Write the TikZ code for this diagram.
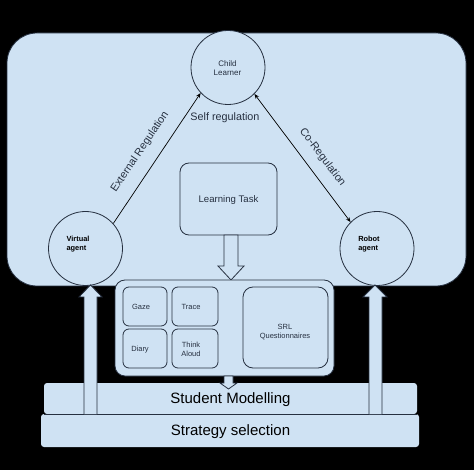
\documentclass[tikz,border=0pt]{standalone}
\usepackage{fontspec}
\setmainfont{Liberation Sans}
\usetikzlibrary{arrows.meta}
\definecolor{lb}{HTML}{CFE2F3}
\definecolor{dk}{HTML}{263040}
\tikzset{
  panel/.style={fill=lb, draw=dk, line width=0.8pt},
  circ/.style={circle, fill=lb, draw=dk, line width=0.8pt, minimum size=74pt, inner sep=0pt},
  smallbox/.style={fill=lb, draw=dk, line width=0.8pt, rounded corners=6pt},
  hollow/.style={fill=lb, draw=dk, line width=0.8pt, line join=miter},
  reg/.style={draw=black, line width=0.7pt},
  lbl/.style={font=\fontsize{10.8}{12}\selectfont, text=dk, inner sep=0pt},
  tiny/.style={font=\fontsize{7.5}{9}\selectfont, text=dk, align=center, inner sep=0pt},
  agent/.style={font=\bfseries\fontsize{7.4}{9}\selectfont, text=black, align=left, inner sep=0pt},
  big/.style={font=\fontsize{15}{17}\selectfont, text=black, inner sep=0pt}
}
\begin{document}
\begin{tikzpicture}[x=1pt,y=-1pt]
\useasboundingbox (0,0) rectangle (474,470);
\fill[black] (0,0) rectangle (474,470);
% main panel
\draw[panel, rounded corners=30pt] (7,33) rectangle (466,286);
% circles
\node[circ] (child) at (228,67.5) {};
\node[tiny, font=\fontsize{8}{9.5}\selectfont] (childtxt) at (227.5,68) {Child\\Learner};
\node[circ] (virt) at (85.5,248.5) {};
\node[agent] (virttxt) at (78,244) {Virtual\\agent};
\node[circ] (robot) at (377,248.5) {};
\node[agent] (robottxt) at (369,244) {Robot\\agent};
% regulation connectors
\draw[reg, -{Stealth[length=5pt,width=4pt]}] (virt.42) -- (child.223);
\draw[reg, {Stealth[length=5pt,width=4pt]}-{Stealth[length=5pt,width=4pt]}] (child.315) -- (robot.135);
\node[lbl, rotate=56] (ext) at (140,152) {External Regulation};
\node[lbl, rotate=-53] (co) at (322.5,157.5) {Co-Regulation};
\node[lbl] (self) at (225,117.5) {Self regulation};
% learning task
\draw[smallbox, rounded corners=9pt] (180,163) rectangle (277,235);
\node[lbl, font=\fontsize{9.6}{11}\selectfont] (task) at (228.5,200) {Learning Task};
% hollow arrow task -> measures
\draw[hollow] (224,235) -- (238,235) -- (238,266) -- (244,266) -- (231,280) -- (218,266) -- (224,266) -- cycle;
% measures panel
\draw[panel, rounded corners=10pt] (115,280) rectangle (334,376);
\draw[smallbox] (123,287) rectangle (167,326);
\node[tiny] (gaze) at (141,306.5) {Gaze};
\draw[smallbox] (172,287) rectangle (218,326);
\node[tiny] (trace) at (191,306.5) {Trace};
\draw[smallbox] (123,329) rectangle (167,368);
\node[tiny] (diary) at (140,349.5) {Diary};
\draw[smallbox] (172,329) rectangle (218,368);
\node[tiny] (think) at (191,349) {Think\\Aloud};
\draw[smallbox, rounded corners=10pt] (243,287) rectangle (328,368);
\node[tiny] (srl) at (285,332) {SRL\\Questionnaires};
% bars
\draw[panel, draw=none, rounded corners=3pt] (44,383) rectangle (417,414);
\node[big] (sm) at (230.5,400) {Student Modelling};
\draw[panel, draw=none, rounded corners=3pt] (41,414) rectangle (419,447);
\draw[dk, line width=0.8pt] (44,414) -- (417,414);
\node[big] (ss) at (230.5,431.5) {Strategy selection};
% small arrow measures -> student modelling
\draw[hollow] (224,376) -- (233,376) -- (233,383) -- (237,383) -- (228.5,389) -- (220,383) -- (224,383) -- cycle;
% up arrows
\draw[hollow] (84,414) -- (84,297) -- (79,297) -- (90.5,285) -- (102,297) -- (97,297) -- (97,414);
\draw[hollow] (369,414) -- (369,297) -- (363,297) -- (375,285) -- (387,297) -- (382,297) -- (382,414);
\end{tikzpicture}
\end{document}
